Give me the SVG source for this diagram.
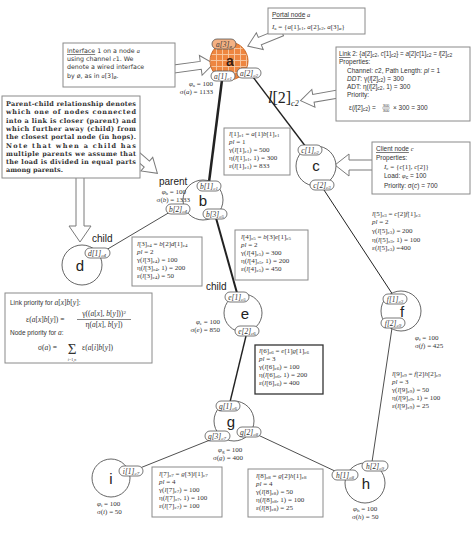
<svg xmlns="http://www.w3.org/2000/svg" width="474" height="538" viewBox="0 0 474 538">
<defs>
<pattern id="grid" width="6" height="6" patternUnits="userSpaceOnUse">
<rect width="6" height="6" fill="#EE8640"/>
<path d="M0 0.5H6M0.5 0V6" stroke="#F8C9A4" stroke-width="0.9"/>
</pattern>
<style>
.bx{fill:#fff;stroke:#8a8a8a;stroke-width:1}
.ha{fill:#fff;stroke:#7a7a7a;stroke-width:1}
.nd{fill:#fff;stroke:#555;stroke-width:0.9}
.pl rect{fill:#fff;stroke:#555;stroke-width:0.8}
.pl text{font-family:"Liberation Serif",serif;font-style:italic;font-size:7.5px;fill:#333;text-anchor:middle}
.lb{font-family:"Liberation Sans",sans-serif;font-size:15px;fill:#222;text-anchor:middle}
.m{font-family:"Liberation Serif",serif;font-size:7px;fill:#333}
.s{font-family:"Liberation Sans",sans-serif;font-size:6.5px;fill:#333}
.v{font-family:"DejaVu Sans",sans-serif;font-size:6.3px;fill:#333}
.pc{font-family:"DejaVu Serif",serif;font-size:6.5px;fill:#333;font-weight:bold}
.t{font-family:"Liberation Sans",sans-serif;font-size:10px;fill:#222}
.sb{font-size:5px;baseline-shift:-1.2px}
.sp{font-size:5px;baseline-shift:super}
.i{font-style:italic}
.u{text-decoration:underline}
.ln{stroke:#222;fill:none}
</style>
</defs>
<rect width="474" height="538" fill="#fff"/>

<g id="callout-arrows">
<polygon class="ha" transform="translate(174,69) rotate(-7.7)" points="0,-4 27,-4 27,-10 40,0 27,10 27,4 0,4"/>
<polygon class="ha" transform="translate(282,32) rotate(157.6)" points="0,-4 24,-4 24,-9 37,0 24,9 24,4 0,4"/>
<polygon class="ha" transform="translate(338,94) rotate(170)" points="0,-4 25,-4 25,-9 38,0 25,9 25,4 0,4"/>
<polygon class="ha" transform="translate(374,165) rotate(180)" points="0,-5 25,-5 25,-11 39,0 25,11 25,5 0,5"/>
<polygon class="ha" transform="translate(134,153) rotate(41)" points="0,-4 17,-4 17,-9 31,0 17,9 17,4 0,4"/>
<polygon class="ha" transform="translate(80,176) rotate(90)" points="0,-4 50,-4 50,-11 66,0 50,11 50,4 0,4"/>
</g>

<g id="connectors">
<line class="ln" x1="222" y1="80" x2="209" y2="182" stroke-width="2.5"/>
<line class="ln" x1="253" y1="77" x2="306" y2="147" stroke-width="1.4"/>
<line class="ln" x1="216" y1="218" x2="237" y2="293" stroke-width="2"/>
<line class="ln" x1="170" y1="212" x2="106" y2="250" stroke-width="0.8"/>
<line class="ln" x1="324" y1="190" x2="393" y2="295" stroke-width="1"/>
<line class="ln" x1="246" y1="336" x2="230" y2="402" stroke-width="1.4"/>
<line class="ln" x1="392" y1="328" x2="372" y2="462" stroke-width="0.8"/>
<line class="ln" x1="210" y1="440" x2="140" y2="468" stroke-width="0.8"/>
<line class="ln" x1="258" y1="435" x2="337" y2="472" stroke-width="0.8"/>
</g>

<g id="note-interface">
<rect class="bx" x="63" y="43" width="112" height="44"/>
<text class="v" x="67" y="53"><tspan class="u">Interface</tspan> 1 on a node <tspan class="i" font-family="Liberation Serif">a</tspan></text>
<text class="v" x="67" y="61">using channel <tspan class="i" font-family="Liberation Serif">c</tspan>1. We</text>
<text class="v" x="67" y="69">denote a wired interface</text>
<text class="v" x="67" y="78">by ø, as in <tspan class="i" font-family="Liberation Serif">a</tspan>[3]<tspan class="sb">ø</tspan>.</text>
</g>

<g id="note-portal">
<rect class="bx" x="268" y="8" width="97" height="26"/>
<text class="s" x="272" y="17"><tspan class="u">Portal node</tspan> <tspan class="i" font-family="Liberation Serif">a</tspan></text>
<text class="m" x="272" y="29"><tspan class="i">I</tspan><tspan class="sb">a</tspan> = {<tspan class="i">a</tspan>[1]<tspan class="sb">c1</tspan>, <tspan class="i">a</tspan>[2]<tspan class="sb">c2</tspan>, <tspan class="i">a</tspan>[3]<tspan class="sb">ø</tspan>}</text>
</g>

<g id="note-link2">
<rect class="bx" x="336" y="47" width="134" height="74"/>
<text class="s" x="339" y="56" style="font-size:6.3px"><tspan class="u">Link</tspan> 2: {<tspan class="i">a</tspan>[2]<tspan class="sb">c2</tspan>, <tspan class="i">c</tspan>[1]<tspan class="sb">c2</tspan>} = <tspan class="i">a</tspan>[2]<tspan class="i">c</tspan>[1]<tspan class="sb">c2</tspan> = <tspan class="i">l</tspan>[2]<tspan class="sb">c2</tspan></text>
<text class="s" x="339" y="64">Properties:</text>
<text class="s" x="347" y="73">Channel: <tspan class="i">c</tspan>2, Path Length: <tspan class="i">pl</tspan> = 1</text>
<text class="s" x="347" y="81"><tspan class="i">DDT</tspan>: γ(<tspan class="i">l</tspan>[2]<tspan class="sb">c2</tspan>) = 300</text>
<text class="s" x="347" y="89">ADT: η(<tspan class="i">l</tspan>[2]<tspan class="sb">c2</tspan>, 1) = 300</text>
<text class="s" x="347" y="97">Priority:</text>
<text class="s" x="349" y="110">ε(<tspan class="i">l</tspan>[2]<tspan class="sb">c2</tspan>) = </text>
<text class="s" x="386" y="106.8" style="font-size:4px" text-anchor="middle">300</text>
<line x1="382" y1="108" x2="390" y2="108" stroke="#333" stroke-width="0.4"/>
<text class="s" x="386" y="112.3" style="font-size:4px" text-anchor="middle">300</text>
<text class="s" x="393" y="110">× 300 = 300</text>
</g>
<text id="label-l2" x="268" y="103" font-family="Liberation Serif" font-size="16" fill="#222"><tspan class="i">l</tspan>[2]<tspan font-size="8" baseline-shift="-3px" font-style="italic">c2</tspan></text>

<g id="note-client">
<rect class="bx" x="372" y="142" width="98" height="52"/>
<text class="s" x="376" y="151"><tspan class="u">Client node</tspan> <tspan class="i" font-family="Liberation Serif">c</tspan></text>
<text class="s" x="376" y="160">Properties:</text>
<text class="m" x="384" y="169"><tspan class="i">I</tspan><tspan class="sb">c</tspan> = {<tspan class="i">c</tspan>[1], <tspan class="i">c</tspan>[2]}</text>
<text class="s" x="384" y="178">Load: <tspan font-family="Liberation Serif" class="i">φ</tspan><tspan class="sb">c</tspan> = 100</text>
<text class="s" x="384" y="188">Priority: σ(<tspan class="i">c</tspan>) = 700</text>
</g>

<g id="note-parent-child">
<rect class="bx" x="2" y="96" width="138" height="82"/>
<text class="pc" x="6" y="106" textLength="130" lengthAdjust="spacing">Parent-child relationship denotes</text>
<text class="pc" x="6" y="114.3" textLength="130" lengthAdjust="spacing">which one of nodes connected</text>
<text class="pc" x="6" y="122.6" textLength="130" lengthAdjust="spacing">into a link is closer (parent) and</text>
<text class="pc" x="6" y="130.9" textLength="130" lengthAdjust="spacing">which further away (child) from</text>
<text class="pc" x="6" y="139.2" textLength="130" lengthAdjust="spacing">the closest portal node (in hops).</text>
<text class="pc" x="6" y="147.5" textLength="130" lengthAdjust="spacing">Note that when a child has</text>
<text class="pc" x="6" y="155.8" textLength="130" lengthAdjust="spacing">multiple parents we assume that</text>
<text class="pc" x="6" y="164.1" textLength="130" lengthAdjust="spacing">the load is divided in equal parts</text>
<text class="pc" x="6" y="172.4">among parents.</text>
</g>

<g id="note-formula">
<rect class="bx" x="5" y="293" width="147" height="70"/>
<text class="s" x="10" y="305">Link priority for <tspan class="i" font-family="Liberation Serif" font-size="7.5">a</tspan><tspan font-family="Liberation Serif" font-size="7.5">[<tspan class="i">x</tspan>]<tspan class="i">b</tspan>[<tspan class="i">y</tspan>]</tspan>:</text>
<text class="m" x="26" y="322" style="font-size:7.5px">ε(<tspan class="i">a</tspan>[<tspan class="i">x</tspan>]<tspan class="i">b</tspan>[<tspan class="i">y</tspan>]) =</text>
<text class="m" x="104" y="316" style="font-size:7.5px" text-anchor="middle">γ((<tspan class="i">a</tspan>[<tspan class="i">x</tspan>], <tspan class="i">b</tspan>[<tspan class="i">y</tspan>]))<tspan class="sp">2</tspan></text>
<line x1="77" y1="319.5" x2="131" y2="319.5" stroke="#333" stroke-width="0.6"/>
<text class="m" x="104" y="327" style="font-size:7.5px" text-anchor="middle">η(<tspan class="i">a</tspan>[<tspan class="i">x</tspan>], <tspan class="i">b</tspan>[<tspan class="i">y</tspan>])</text>
<text class="s" x="10" y="335">Node priority for <tspan class="i" font-family="Liberation Serif" font-size="7.5">a</tspan>:</text>
<text class="m" x="38" y="350" style="font-size:7.5px">σ(<tspan class="i">a</tspan>) =</text>
<text class="m" x="72" y="354" style="font-size:15px" text-anchor="middle">Σ</text>
<text class="m" x="72" y="360.5" style="font-size:4px" text-anchor="middle"><tspan class="i">i</tspan>=1,<tspan class="i">n</tspan></text>
<text class="m" x="82" y="350" style="font-size:7.5px">ε(<tspan class="i">a</tspan>[<tspan class="i">i</tspan>]<tspan class="i">b</tspan>[<tspan class="i">y</tspan>])</text>
</g>

<g id="node-a">
<circle cx="229" cy="61" r="19" fill="url(#grid)" stroke="#C55A11" stroke-width="0.9"/>
<text x="230" y="66" font-family="Liberation Sans" font-weight="bold" font-size="14" fill="#3a2010" text-anchor="middle">a</text>
<g class="pl"><rect x="212" y="39" width="24" height="10" rx="5" style="fill:#F4B183"/><text x="224" y="46.5">a[3]<tspan class="sb">ø</tspan></text></g>
<g class="pl"><rect x="211" y="71" width="24" height="10" rx="5"/><text x="223" y="78.5">a[1]<tspan class="sb">c1</tspan></text></g>
<g class="pl"><rect x="237" y="68" width="24" height="10" rx="5"/><text x="249" y="75.5">a[2]<tspan class="sb">c2</tspan></text></g>
<text class="m" x="213" y="86" text-anchor="end"><tspan class="i">φ</tspan><tspan class="sb">a</tspan> = 100</text>
<text class="m" x="213" y="94" text-anchor="end">σ(<tspan class="i">a</tspan>) = 1133</text>
</g>

<g id="node-b">
<circle class="nd" cx="203" cy="200" r="20"/>
<text class="lb" x="203" y="206">b</text>
<g class="pl"><rect x="197" y="181" width="24" height="10" rx="5"/><text x="209" y="188.5">b[1]<tspan class="sb">c1</tspan></text></g>
<g class="pl"><rect x="166" y="204" width="24" height="10" rx="5"/><text x="178" y="211.5">b[2]<tspan class="sb">c4</tspan></text></g>
<g class="pl"><rect x="203" y="209" width="24" height="10" rx="5"/><text x="215" y="216.5">b[3]<tspan class="sb">c5</tspan></text></g>
<text class="t" x="159" y="185">parent</text>
<text class="m" x="186" y="194" text-anchor="end"><tspan class="i">φ</tspan><tspan class="sb">b</tspan> = 100</text>
<text class="m" x="190" y="202" text-anchor="end">σ(<tspan class="i">b</tspan>) = 1333</text>
</g>

<g id="node-c">
<circle class="nd" cx="316" cy="166" r="20"/>
<text class="lb" x="316" y="171">c</text>
<g class="pl"><rect x="298" y="145" width="24" height="10" rx="5"/><text x="310" y="152.5">c[1]<tspan class="sb">c2</tspan></text></g>
<g class="pl"><rect x="310" y="180" width="24" height="10" rx="5"/><text x="322" y="187.5">c[2]<tspan class="sb">c3</tspan></text></g>
</g>

<g id="node-d">
<circle class="nd" cx="82" cy="265" r="20"/>
<text class="lb" x="80" y="271">d</text>
<g class="pl"><rect x="85" y="248" width="25" height="10" rx="5"/><text x="97" y="255.5">d[1]<tspan class="sb">c4</tspan></text></g>
<text class="t" x="92" y="242">child</text>
</g>

<g id="node-e">
<circle class="nd" cx="243" cy="313" r="19"/>
<text class="lb" x="245" y="319">e</text>
<g class="pl"><rect x="225" y="292" width="24" height="10" rx="5"/><text x="237" y="299.5">e[1]<tspan class="sb">c5</tspan></text></g>
<g class="pl"><rect x="235" y="326" width="24" height="10" rx="5"/><text x="247" y="333.5">e[2]<tspan class="sb">c6</tspan></text></g>
<text class="t" x="206" y="290">child</text>
<text class="m" x="220" y="324" text-anchor="end"><tspan class="i">φ</tspan><tspan class="sb">e</tspan> = 100</text>
<text class="m" x="220" y="332" text-anchor="end">σ(<tspan class="i">e</tspan>) = 850</text>
</g>

<g id="node-f">
<circle class="nd" cx="401" cy="311" r="20"/>
<text class="lb" x="402" y="317">f</text>
<g class="pl"><rect x="383" y="294" width="24" height="10" rx="5"/><text x="395" y="301.5">f[1]<tspan class="sb">c3</tspan></text></g>
<g class="pl"><rect x="381" y="318" width="24" height="10" rx="5"/><text x="393" y="325.5">f[2]<tspan class="sb">c9</tspan></text></g>
<text class="m" x="415" y="340"><tspan class="i">φ</tspan><tspan class="sb">f</tspan> = 100</text>
<text class="m" x="415" y="348">σ(<tspan class="i">f</tspan>) = 425</text>
</g>

<g id="node-g">
<circle class="nd" cx="234" cy="421" r="20"/>
<text class="lb" x="231" y="427">g</text>
<g class="pl"><rect x="216" y="401" width="24" height="10" rx="5"/><text x="228" y="408.5">g[1]<tspan class="sb">c6</tspan></text></g>
<g class="pl"><rect x="237" y="427" width="24" height="10" rx="5"/><text x="249" y="434.5">g[2]<tspan class="sb">c8</tspan></text></g>
<g class="pl"><rect x="205" y="431" width="25" height="10" rx="5"/><text x="217" y="438.5">g[3]<tspan class="sb">c7</tspan></text></g>
<text class="m" x="218" y="452"><tspan class="i">φ</tspan><tspan class="sb">g</tspan> = 100</text>
<text class="m" x="213" y="460">σ(<tspan class="i">g</tspan>) = 400</text>
</g>

<g id="node-h">
<circle class="nd" cx="365" cy="483" r="20"/>
<text class="lb" x="366" y="489">h</text>
<g class="pl"><rect x="362" y="461" width="26" height="10" rx="5"/><text x="375" y="468.5">h[2]<tspan class="sb">c9</tspan></text></g>
<g class="pl"><rect x="332" y="470" width="26" height="10" rx="5"/><text x="345" y="477.5">h[1]<tspan class="sb">c8</tspan></text></g>
<text class="m" x="353" y="511"><tspan class="i">φ</tspan><tspan class="sb">h</tspan> = 100</text>
<text class="m" x="352" y="519">σ(<tspan class="i">h</tspan>) = 50</text>
</g>

<g id="node-i">
<circle class="nd" cx="111" cy="478" r="19"/>
<text class="lb" x="111" y="484">i</text>
<g class="pl"><rect x="119" y="466" width="24" height="10" rx="5"/><text x="131" y="473.5">i[1]<tspan class="sb">c7</tspan></text></g>
<text class="m" x="97" y="506"><tspan class="i">φ</tspan><tspan class="sb">i</tspan> = 100</text>
<text class="m" x="97" y="514">σ(<tspan class="i">i</tspan>) = 50</text>
</g>

<g id="link-l1">
<rect class="bx" x="224" y="128" width="66" height="47"/>
<text class="m" x="229" y="136"><tspan class="i">l</tspan>[1]<tspan class="sb">c1</tspan> = <tspan class="i">a</tspan>[1]<tspan class="i">b</tspan>[1]<tspan class="sb">c1</tspan></text>
<text class="m" x="229" y="144"><tspan class="i">pl</tspan> = 1</text>
<text class="m" x="229" y="152">γ(<tspan class="i">l</tspan>[1]<tspan class="sb">c1</tspan>) = 500</text>
<text class="m" x="229" y="160">η(<tspan class="i">l</tspan>[1]<tspan class="sb">c1</tspan>, 1) = 300</text>
<text class="m" x="229" y="168">ε(<tspan class="i">l</tspan>[1]<tspan class="sb">c1</tspan>) = 833</text>
</g>

<g id="link-l3">
<rect class="bx" x="132" y="237" width="70" height="49"/>
<text class="m" x="137" y="246"><tspan class="i">l</tspan>[3]<tspan class="sb">c4</tspan> = <tspan class="i">b</tspan>[2]<tspan class="i">d</tspan>[1]<tspan class="sb">c4</tspan></text>
<text class="m" x="137" y="254"><tspan class="i">pl</tspan> = 2</text>
<text class="m" x="137" y="262">γ(<tspan class="i">l</tspan>[3]<tspan class="sb">c4</tspan>) = 100</text>
<text class="m" x="137" y="270">η(<tspan class="i">l</tspan>[3]<tspan class="sb">c4</tspan>, 1) = 200</text>
<text class="m" x="137" y="278">ε(<tspan class="i">l</tspan>[3]<tspan class="sb">c4</tspan>) = 50</text>
</g>

<g id="link-l4">
<rect class="bx" x="235" y="230" width="73" height="50"/>
<text class="m" x="241" y="239"><tspan class="i">l</tspan>[4]<tspan class="sb">c5</tspan> = <tspan class="i">b</tspan>[3]<tspan class="i">e</tspan>[1]<tspan class="sb">c5</tspan></text>
<text class="m" x="241" y="247"><tspan class="i">pl</tspan> = 2</text>
<text class="m" x="241" y="255">γ(<tspan class="i">l</tspan>[4]<tspan class="sb">c5</tspan>) = 300</text>
<text class="m" x="241" y="263">η(<tspan class="i">l</tspan>[4]<tspan class="sb">c5</tspan>, 1) = 200</text>
<text class="m" x="241" y="271">ε(<tspan class="i">l</tspan>[4]<tspan class="sb">c5</tspan>) = 450</text>
</g>

<g id="link-l5">
<text class="m" x="372" y="216"><tspan class="i">l</tspan>[5]<tspan class="sb">c3</tspan> = <tspan class="i">c</tspan>[2]<tspan class="i">f</tspan>[1]<tspan class="sb">c3</tspan></text>
<text class="m" x="372" y="224"><tspan class="i">pl</tspan> = 2</text>
<text class="m" x="372" y="233">γ(<tspan class="i">l</tspan>[5]<tspan class="sb">c3</tspan>) = 200</text>
<text class="m" x="372" y="242">η(<tspan class="i">l</tspan>[5]<tspan class="sb">c3</tspan>, 1) = 100</text>
<text class="m" x="372" y="250">ε(<tspan class="i">l</tspan>[5]<tspan class="sb">c3</tspan>) =400</text>
</g>

<g id="link-l6">
<rect x="255" y="345" width="68" height="49" fill="#fff" stroke="#333" stroke-width="1.3"/>
<text class="m" x="259" y="353"><tspan class="i">l</tspan>[6]<tspan class="sb">c6</tspan> = <tspan class="i">e</tspan>[1]<tspan class="i">g</tspan>[1]<tspan class="sb">c6</tspan></text>
<text class="m" x="259" y="361"><tspan class="i">pl</tspan> = 3</text>
<text class="m" x="259" y="369">γ(<tspan class="i">l</tspan>[6]<tspan class="sb">c6</tspan>) = 100</text>
<text class="m" x="259" y="377">η(<tspan class="i">l</tspan>[6]<tspan class="sb">c6</tspan>, 1) = 200</text>
<text class="m" x="259" y="385">ε(<tspan class="i">l</tspan>[6]<tspan class="sb">c6</tspan>) = 400</text>
</g>

<g id="link-l9">
<text class="m" x="392" y="376"><tspan class="i">l</tspan>[9]<tspan class="sb">c9</tspan> = <tspan class="i">f</tspan>[2]<tspan class="i">h</tspan>[2]<tspan class="sb">c9</tspan></text>
<text class="m" x="392" y="384"><tspan class="i">pl</tspan> = 3</text>
<text class="m" x="392" y="392">γ(<tspan class="i">l</tspan>[9]<tspan class="sb">c9</tspan>) = 50</text>
<text class="m" x="392" y="400">η(<tspan class="i">l</tspan>[9]<tspan class="sb">c9</tspan>, 1) = 100</text>
<text class="m" x="392" y="408">ε(<tspan class="i">l</tspan>[9]<tspan class="sb">c9</tspan>) = 25</text>
</g>

<g id="link-l7">
<rect class="bx" x="152" y="467" width="70" height="50"/>
<text class="m" x="159" y="476"><tspan class="i">l</tspan>[7]<tspan class="sb">c7</tspan> = <tspan class="i">g</tspan>[3]<tspan class="i">i</tspan>[1]<tspan class="sb">c7</tspan></text>
<text class="m" x="159" y="484"><tspan class="i">pl</tspan> = 4</text>
<text class="m" x="159" y="492">γ(<tspan class="i">l</tspan>[7]<tspan class="sb">c7</tspan>) = 100</text>
<text class="m" x="159" y="500">η(<tspan class="i">l</tspan>[7]<tspan class="sb">c7</tspan>, 1) = 100</text>
<text class="m" x="159" y="508">ε(<tspan class="i">l</tspan>[7]<tspan class="sb">c7</tspan>) = 100</text>
</g>

<g id="link-l8">
<rect class="bx" x="248" y="469" width="75" height="48"/>
<text class="m" x="256" y="478"><tspan class="i">l</tspan>[8]<tspan class="sb">c8</tspan> = <tspan class="i">g</tspan>[2]<tspan class="i">h</tspan>[1]<tspan class="sb">c8</tspan></text>
<text class="m" x="256" y="486"><tspan class="i">pl</tspan> = 4</text>
<text class="m" x="256" y="494">γ(<tspan class="i">l</tspan>[8]<tspan class="sb">c8</tspan>) = 50</text>
<text class="m" x="256" y="502">η(<tspan class="i">l</tspan>[8]<tspan class="sb">c8</tspan>, 1) = 100</text>
<text class="m" x="256" y="510">ε(<tspan class="i">l</tspan>[8]<tspan class="sb">c8</tspan>) = 25</text>
</g>
</svg>
